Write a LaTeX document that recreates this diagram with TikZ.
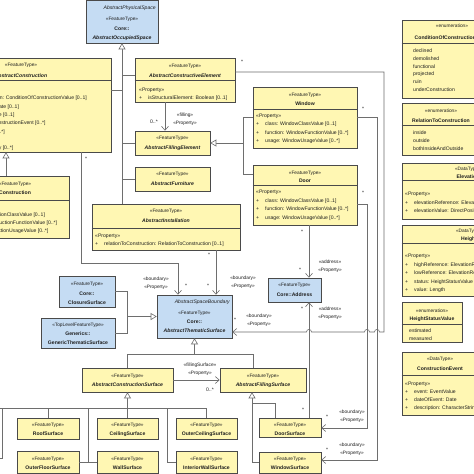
\documentclass[tikz,border=0pt]{standalone}
\usepackage{fontspec}
\setmainfont{Liberation Sans}
\usetikzlibrary{arrows.meta, fit}
\definecolor{umlyellow}{HTML}{FFF7B3}
\definecolor{umlblue}{HTML}{C5DCF3}
\definecolor{umledge}{HTML}{4A4A4A}
\definecolor{umllink}{HTML}{6E6E6E}
\definecolor{umltext}{HTML}{1E1E1E}
\newcommand{\umlfont}{\fontsize{5.1}{6}\selectfont}
\newcommand{\stfont}{\fontsize{4.8}{6}\selectfont}
\newcommand{\itm}{\makebox[9pt][l]{+}}
% class box from its two corners (pixel coordinates, y downwards)
\newcommand{\clsbox}[6]{\node[umlbox, fill=#2, fit={(#3,#4) (#5,#6)}] (#1) {};}
\newcommand{\sepline}[2]{\draw[umledge, line width=0.5pt] (#1.west |- 0,#2) -- (#1.east |- 0,#2);}
\newcommand{\hdr}[6]{\node[stereo] (#1-st) at (#2,#3) {#5};
  \node[cname] (#1-n) at (#2,#4) {#6};}
\newcommand{\attrs}[5]{\foreach \t [count=\i from 0] in {#5} {\node[attr] (#1-\i) at (#2,{#3+\i*#4}) {\t};}}
% line jump over a vertical connector
\newcommand{\hop}[2]{-- ({#1+2.5},#2) .. controls ({#1+2.5},{#2-3.4}) and ({#1-2.5},{#2-3.4}) .. ({#1-2.5},#2)}
\begin{document}
\begin{tikzpicture}[x=1pt, y=-1pt, font=\umlfont, text=umltext,
    umlbox/.style={draw=umledge, line width=0.6pt, inner sep=0pt},
    stereo/.style={inner sep=0pt, anchor=mid, font=\stfont},
    cname/.style={inner sep=0pt, anchor=mid, font=\umlfont\bfseries},
    attr/.style={inner sep=0pt, anchor=mid west},
    role/.style={inner sep=0pt, align=center, font=\fontsize{4.8}{8}\selectfont},
    mult/.style={inner sep=0pt, font=\umlfont},
    link/.style={draw=umllink, line width=0.6pt},
    gen/.style={link, -{Triangle[open, fill=white, length=6pt, width=7pt]}},
    nav/.style={link, -{Straight Barb[length=4pt, width=7pt]}}]
\useasboundingbox (0,0) rectangle (474,474);
\clip (0,0) rectangle (474,474);
\fill[white] (0,0) rectangle (474,474);

% ---- core classes
\clsbox{occSp}{umlblue}{86}{0.5}{158}{43}
\node[stereo, anchor=mid east, font=\umlfont\itshape] (occSp-p) at (156,7) {AbstractPhysicalSpace};
\hdr{occSp}{122}{18}{28}{«FeatureType»}{Core::}
\node[cname] (occSp-n2) at (122,37) {\itshape AbstractOccupiedSpace};

\clsbox{thSurf}{umlblue}{157}{295}{232}{338}
\node[stereo, anchor=mid east, font=\umlfont\itshape] (thSurf-p) at (230,301) {AbstractSpaceBoundary};
\hdr{thSurf}{194.5}{312}{321}{«FeatureType»}{Core::}
\node[cname] (thSurf-n2) at (194.5,330) {\itshape AbstractThematicSurface};

\clsbox{closure}{umlblue}{59}{276}{115}{307}
\hdr{closure}{87}{283}{293}{«FeatureType»}{Core::}
\node[cname] (closure-n2) at (87,302) {ClosureSurface};

\clsbox{generic}{umlblue}{41}{318}{115}{348}
\hdr{generic}{78}{324}{333}{«TopLevelFeatureType»}{Generics::}
\node[cname] (generic-n2) at (78,342) {GenericThematicSurface};

\clsbox{addr}{umlblue}{268}{278}{321}{302}
\hdr{addr}{294.5}{284}{294}{«FeatureType»}{Core::Address}

% ---- construction classes
\clsbox{absCon}{umlyellow}{-72}{58}{111}{152} \sepline{absCon}{80}
\hdr{absCon}{21}{64}{75}{«FeatureType»}{\itshape AbstractConstruction}
\attrs{absCon-a}{-61}{89}{8.3}{«Property», \itm conditionOfConstruction: ConditionOfConstructionValue [0..1],
  \itm dateOfConstruction: Date [0..1], \itm dateOfDemolition: Date [0..1],
  \itm constructionEvent: ConstructionEvent [0..*], \itm elevation: Elevation [0..*],
  \itm height: Height [0..*], \itm occupancy: Occupancy [0..*]}

\clsbox{cons}{umlyellow}{-50}{176}{69}{238} \sepline{cons}{200}
\hdr{cons}{15}{183}{192}{«FeatureType»}{Construction}
\attrs{cons-a}{-46}{206}{8.1}{«Property», \itm class: ConstructionClassValue [0..1],
  \itm function: ConstructionFunctionValue [0..*], \itm usage: ConstructionUsageValue [0..*]}

\clsbox{acElem}{umlyellow}{135}{58}{235}{102} \sepline{acElem}{80}
\hdr{acElem}{185}{65}{75}{«FeatureType»}{\itshape AbstractConstructiveElement}
\attrs{acElem-a}{139}{89}{8.3}{«Property», \itm isStructuralElement: Boolean [0..1]}

\clsbox{window}{umlyellow}{253}{87}{357}{148} \sepline{window}{109}
\hdr{window}{305}{94}{103}{«FeatureType»}{Window}
\attrs{win-a}{256}{115}{8.3}{«Property», \itm class: WindowClassValue [0..1],
  \itm function: WindowFunctionValue [0..*], \itm usage: WindowUsageValue [0..*]}

\clsbox{door}{umlyellow}{253}{165}{357}{225} \sepline{door}{185}
\hdr{door}{305}{172}{180}{«FeatureType»}{Door}
\attrs{door-a}{256}{191}{8.5}{«Property», \itm class: WindowClassValue [0..1],
  \itm function: WindowFunctionValue [0..*], \itm usage: WindowUsageValue [0..*]}

\clsbox{fillEl}{umlyellow}{135}{131}{210}{155}
\hdr{fillEl}{172.5}{137}{147}{«FeatureType»}{\itshape AbstractFillingElement}
\clsbox{furn}{umlyellow}{135}{167}{210}{191}
\hdr{furn}{172.5}{173}{183}{«FeatureType»}{\itshape AbstractFurniture}

\clsbox{inst}{umlyellow}{92}{204}{240}{250} \sepline{inst}{228}
\hdr{inst}{166}{210}{220}{«FeatureType»}{\itshape AbstractInstallation}
\attrs{inst-a}{95}{235}{8.3}{«Property», \itm relationToConstruction: RelationToConstruction [0..1]}

\clsbox{conSurf}{umlyellow}{82}{368}{173}{392}
\hdr{conSurf}{127.5}{375}{384}{«FeatureType»}{\itshape AbstractConstructionSurface}
\clsbox{fillSurf}{umlyellow}{220}{368}{306}{392}
\hdr{fillSurf}{263}{375}{384}{«FeatureType»}{\itshape AbstractFillingSurface}

\clsbox{roof}{umlyellow}{17}{418}{79}{439}       \hdr{roof}{48}{424}{433}{«FeatureType»}{RoofSurface}
\clsbox{ceiling}{umlyellow}{97}{418}{158}{439}   \hdr{ceiling}{127.5}{424}{433}{«FeatureType»}{CeilingSurface}
\clsbox{outerCeil}{umlyellow}{176}{418}{237}{439} \hdr{outerCeil}{206.5}{424}{433}{«FeatureType»}{OuterCeilingSurface}
\clsbox{outerFloor}{umlyellow}{17}{451}{79}{473} \hdr{outerFloor}{48}{458}{467}{«FeatureType»}{OuterFloorSurface}
\clsbox{wall}{umlyellow}{97}{451}{158}{473}      \hdr{wall}{127.5}{458}{467}{«FeatureType»}{WallSurface}
\clsbox{interiorWall}{umlyellow}{176}{451}{237}{473} \hdr{interiorWall}{206.5}{458}{467}{«FeatureType»}{InteriorWallSurface}
\clsbox{doorSurf}{umlyellow}{259}{418}{321}{437} \hdr{doorSurf}{290}{424}{432.5}{«FeatureType»}{DoorSurface}
\clsbox{winSurf}{umlyellow}{259}{452}{321}{473}  \hdr{winSurf}{290}{458}{467}{«FeatureType»}{WindowSurface}

% ---- data types and enumerations
\clsbox{condVal}{umlyellow}{402}{20}{502}{98} \sepline{condVal}{43}
\hdr{condVal}{452}{25}{37}{«enumeration»}{ConditionOfConstructionValue}
\attrs{condVal-v}{413}{50}{7.7}{declined, demolished, functional, projected, ruin, underConstruction}

\clsbox{relVal}{umlyellow}{402}{103}{482}{155} \sepline{relVal}{125}
\hdr{relVal}{441}{110}{120}{«enumeration»}{RelationToConstruction}
\attrs{relVal-v}{413}{132}{8}{inside, outside, bothInsideAndOutside}

\clsbox{elev}{umlyellow}{402}{163}{534}{219} \sepline{elev}{180}
\hdr{elev}{468}{168}{176}{«DataType»}{Elevation}
\attrs{elev-a}{405}{193}{8.5}{«Property», \itm elevationReference: ElevationReferenceValue,
  \itm elevationValue: DirectPosition}

\clsbox{height}{umlyellow}{402}{225}{534}{296} \sepline{height}{243}
\hdr{height}{469}{230}{238}{«DataType»}{Height}
\attrs{height-a}{405}{255}{8.5}{«Property», \itm highReference: ElevationReferenceValue,
  \itm lowReference: ElevationReferenceValue, \itm status: HeightStatusValue, \itm value: Length}

\clsbox{hsVal}{umlyellow}{402}{302}{462}{342} \sepline{hsVal}{324}
\hdr{hsVal}{432}{310}{318}{«enumeration»}{HeightStatusValue}
\attrs{hsVal-v}{409}{330}{8}{estimated, measured}

\clsbox{consEvt}{umlyellow}{402}{352}{478}{415} \sepline{consEvt}{375}
\hdr{consEvt}{440}{358}{368}{«DataType»}{ConstructionEvent}
\attrs{consEvt-a}{405}{383}{8}{«Property», \itm event: EventValue, \itm dateOfEvent: Date,
  \itm description: CharacterString}

% ---- bend points
\coordinate (jAC) at (122,90);   \coordinate (jAE) at (122,75);
\coordinate (genC) at (6,160);   \coordinate (fillX) at (165,110);
\coordinate (jWD) at (243,174);
\coordinate (bA1) at (81,263);   \coordinate (bA2) at (178,263);
\coordinate (bB) at (216,270);
\coordinate (bC1) at (384,72);   \coordinate (bC2) at (384,332);
\coordinate (bW) at (377,460);
\coordinate (bD1) at (367,204);  \coordinate (bD2) at (367,428);
\coordinate (aX) at (309,300);
\coordinate (gL) at (127,315);   \coordinate (gB) at (253,354);
\coordinate (sBL) at (-20,408);  \coordinate (sW) at (88,408);
\coordinate (sI) at (167,408);   \coordinate (sOff) at (2,408);
\coordinate (sOffE) at (-20,458);
\coordinate (fX) at (252,403);   \coordinate (fD) at (275,403);

% ---- generalisations
\draw[gen] (inst.north -| occSp.south) -- (occSp.south);
\draw[link] (jAC) -- (absCon.east |- jAC);
\draw[link] (jAE) -- (acElem.west |- jAE);
\draw[link] (occSp.south |- fillEl.west) -- (fillEl.west);
\draw[link] (occSp.south |- furn.west) -- (furn.west);
\draw[gen] (cons.north -| genC) -- (absCon.south -| genC);
\draw[link] (window.west) -| (jWD) -- (door.west |- jWD);
\draw[gen] (fillEl.east -| jWD) -- (fillEl.east);
\draw[gen] (thSurf.west -| gL) -- (thSurf.west);
\draw[link] (closure.east) -| (generic.east -| gL) -- (generic.east);
\draw[gen] (thSurf.south |- gB) -- (thSurf.south);
\draw[link] (conSurf.north) |- (gB) -- (fillSurf.north -| gB);
\draw[gen] (ceiling.north) -- (conSurf.south);
\draw[link] (sBL) -- (outerCeil.north |- sBL) -- (outerCeil.north);
\draw[link] (roof.north) -- (roof.north |- sBL);
\draw[link] (sW) -- (sW |- wall.west);
\draw[link] (outerFloor.east) -- (wall.west);
\draw[link] (sI) |- (interiorWall.west);
\draw[link] (sOff) |- (sOffE);
\draw[gen] (winSurf.west) -| (fillSurf.south -| fX);
\draw[link] (fX) -- (fD) -- (doorSurf.north -| fD);

% ---- associations
\draw[nav] (acElem.south -| fillX) -- (fillEl.north -| fillX);
\draw[nav] (absCon.south -| bA1) -- (bA1) -- (bA2) -- (thSurf.north -| bA2);
\draw[nav] (inst.south -| bB) -- (thSurf.north -| bB);
\draw[nav] (acElem.east |- bC1) -- (bC1) -- (bC2) \hop{377}{332} \hop{367}{332} \hop{309}{332}
  -- (thSurf.east |- bC2);
\draw[nav] (window.east) -| (bW) -- (winSurf.east |- bW);
\draw[nav] (door.east |- bD1) -- (bD1) -- (bD2) -- (doorSurf.east |- bD2);
\draw[nav] (door.south -| aX) -- (addr.north -| aX);
\draw[nav] (doorSurf.north -| aX) -- (addr.south -| aX);
\draw[nav] (conSurf.east) -- (fillSurf.west);

% ---- role names and multiplicities
\node[role] (lFill) at (185,119) {«filling»\\«Property»};
\node[mult] (mFill) at (154,122) {0..*};
\node[role] (lBndA) at (156,283) {«boundary»\\«Property»};
\node[role] (lBndB) at (243,282) {«boundary»\\«Property»};
\node[role] (lBndC) at (259,320) {«boundary»\\«Property»};
\node[role] (lBndD) at (352,416) {«boundary»\\«Property»};
\node[role] (lBndW) at (352,449) {«boundary»\\«Property»};
\node[role] (lAdrA) at (330,266) {«address»\\«Property»};
\node[role] (lAdrB) at (330,313) {«address»\\«Property»};
\node[role] (lFS) at (200,369) {«fillingSurface»\\«Property»};
\node[mult] (mFS) at (210,390) {0..*};
\foreach \p [count=\i] in {(242,62), (363,109), (363,193), (302,232), (300,270), (302,309),
    (303,410), (327,417), (327,450), (86,159), (186,286), (209,255), (208,286), (235,320)}
  \node[mult] (star\i) at \p {*};
\end{tikzpicture}
\end{document}
